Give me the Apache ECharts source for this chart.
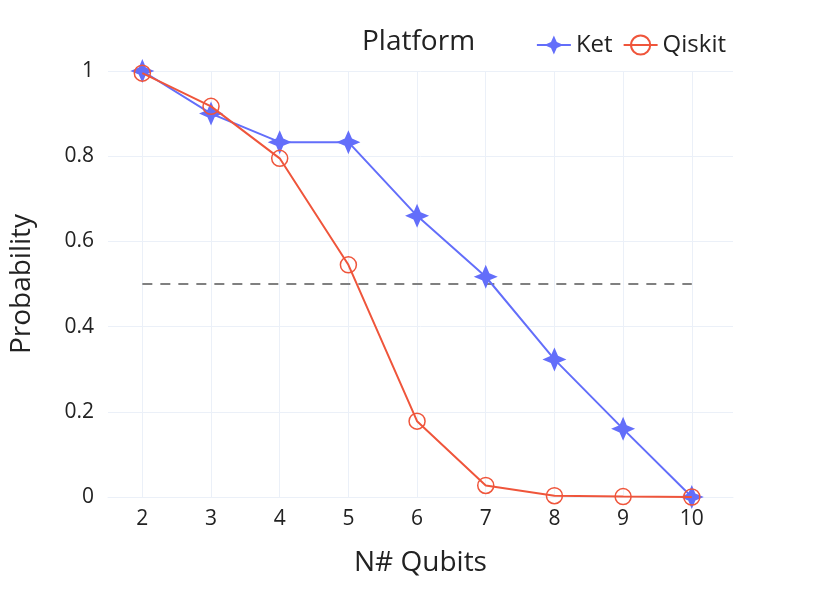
<!DOCTYPE html>
<html><head><meta charset="utf-8">
<script src="https://cdn.jsdelivr.net/npm/echarts@6/dist/echarts.min.js"></script>
<style>html,body{margin:0;padding:0;background:#fff}#c{width:831px;height:593px}</style>
</head><body><div id="c"></div>
<script>
var qubits = [2, 3, 4, 5, 6, 7, 8, 9, 10];
var ket = [1, 0.9, 0.833, 0.833, 0.66, 0.517, 0.323, 0.16, 0];
var qiskit = [0.995, 0.917, 0.795, 0.545, 0.178, 0.027, 0.003, 0.001, 0];
var threshold = 0.5;

var star = 'path://M0,-10 L3,-3 L10,0 L3,3 L0,10 L-3,3 L-10,0 L-3,-3 Z';
var font = '"Open Sans", sans-serif';

function pairs(vals) {
	return qubits.map(function(q, i) { return [q, vals[i]]; });
}

var chart = echarts.init(document.getElementById('c'));
chart.setOption({
	animation: false,
	textStyle: { fontFamily: font },
	grid: { left: 105, right: 98, top: 71, bottom: 96 },
	graphic: [{
		type: 'text', left: 362, top: 28,
		style: { text: 'Platform', font: '28px ' + font, fill: '#222' }
	}],
	legend: {
		right: 100, top: 28, itemGap: 10, itemWidth: 34, itemHeight: 24,
		textStyle: { fontSize: 24, color: '#222', fontFamily: font },
		data: ['Ket', 'Qiskit']
	},
	xAxis: {
		type: 'value', min: 1.5, max: 10.6,
		name: 'N# Qubits', nameLocation: 'middle', nameGap: 52,
		nameTextStyle: { fontSize: 28, color: '#222', fontFamily: font },
		axisLine: { show: true, lineStyle: { color: '#ebf0f8' } },
		axisTick: { show: false, customValues: qubits },
		axisLabel: { fontSize: 21, color: '#222', margin: 12, customValues: qubits },
		splitLine: { show: true, lineStyle: { color: '#ebf0f8' } }
	},
	yAxis: {
		type: 'value', min: 0, max: 1, interval: 0.2,
		name: 'Probability', nameLocation: 'middle', nameGap: 72,
		nameTextStyle: { fontSize: 28, color: '#222', fontFamily: font },
		axisLine: { show: false }, axisTick: { show: false },
		axisLabel: { fontSize: 21, color: '#222', margin: 14,
			formatter: function(v) { return v === 0 || v === 1 ? String(v) : v.toFixed(1); } },
		splitLine: { lineStyle: { color: '#ebf0f8' } }
	},
	series: [{
		name: 'Threshold', type: 'line',
		data: [[qubits[0], threshold], [qubits[qubits.length - 1], threshold]],
		symbol: 'none', lineStyle: { color: '#808080', width: 2, type: [10, 8] }, z: 1
	}, {
		name: 'Ket', type: 'line', data: pairs(ket),
		symbol: star, symbolSize: 24,
		itemStyle: { color: '#636efa' }, lineStyle: { color: '#636efa', width: 2 }, z: 3
	}, {
		name: 'Qiskit', type: 'line', data: pairs(qiskit),
		symbol: 'circle', symbolSize: 16, showAllSymbol: true,
		itemStyle: { color: 'rgba(255,255,255,0)', borderColor: '#ef553b', borderWidth: 1.5 },
		lineStyle: { color: '#ef553b', width: 2 }, z: 4
	}]
});
</script></body></html>
